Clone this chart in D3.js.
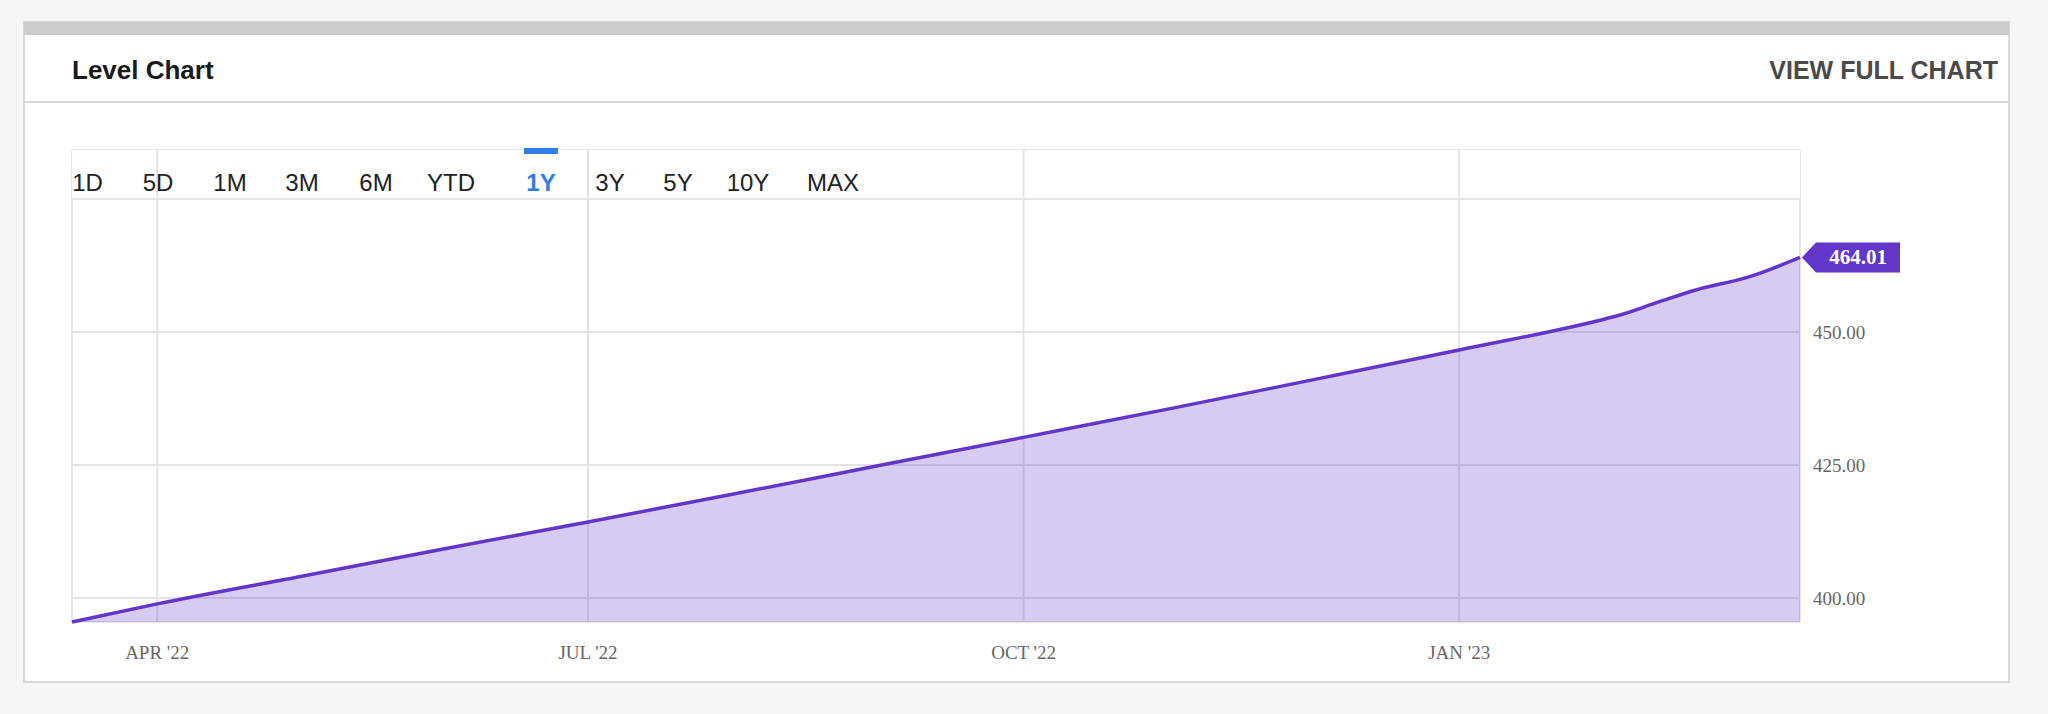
<!DOCTYPE html><html><head><meta charset="utf-8">
<script src="https://cdn.jsdelivr.net/npm/d3@7"></script>
<style>body{margin:0;background:#f6f6f6;}svg{display:block}</style></head><body>
<svg id="c" width="2048" height="714"></svg>
<script>
const dates=["2022-03-14","2022-04-01","2022-05-01","2022-06-01","2022-07-01","2022-08-01","2022-09-01","2022-10-01","2022-11-01","2022-12-01","2023-01-01","2023-02-01","2023-02-04","2023-02-12","2023-02-20","2023-03-03","2023-03-14"];
const values=[395.5,398.9,404.0,409.3,414.3,419.6,425.0,430.2,435.6,441.0,446.6,452.5,453.2,455.6,457.9,460.3,464.01];
const yTicks=[400,425,450,475];
const xTickDates=["2022-04-01","2022-07-01","2022-10-01","2023-01-01"];
const xTickLabels=["APR '22","JUL '22","OCT '22","JAN '23"];
const ranges=["1D","5D","1M","3M","6M","YTD","1Y","3Y","5Y","10Y","MAX"];
const activeRange="1Y";
const lastLabel="464.01";

const svg=d3.select("#c");
const P=d3.timeParse("%Y-%m-%d");
const L=72,R=1800,T=150,B=622;
// card
svg.append("rect").attr("x",24).attr("y",22).attr("width",1985).attr("height",660).attr("fill","#fff").attr("stroke","#d8d8d8").attr("stroke-width",2);
svg.append("rect").attr("x",24).attr("y",22).attr("width",1985).attr("height",13).attr("fill","#cccccc");
svg.append("line").attr("x1",24).attr("x2",2009).attr("y1",102).attr("y2",102).attr("stroke","#d8d8d8").attr("stroke-width",2);
svg.append("text").attr("x",72).attr("y",79).text("Level Chart").attr("font-family","Liberation Sans, Arial").attr("font-weight","bold").attr("font-size",26).attr("fill","#1a1a1a");
svg.append("text").attr("x",1998).attr("y",79).attr("text-anchor","end").text("VIEW FULL CHART").attr("font-family","Liberation Sans, Arial").attr("font-weight","bold").attr("font-size",25).attr("fill","#4a4a4a");

const x=d3.scaleTime().domain([P("2022-03-14"),P("2023-03-14")]).range([L,R]);
const y=d3.scaleLinear().domain([395.5,484.2]).range([B,T]);
const g=svg.append("g");
g.append("rect").attr("x",L).attr("y",T).attr("width",R-L).attr("height",B-T).attr("fill","#fff").attr("stroke","#e6e6e6").attr("stroke-width",2);
g.selectAll(".gy").data(yTicks).join("line").attr("x1",L).attr("x2",R).attr("y1",d=>y(d)).attr("y2",d=>y(d)).attr("stroke","#e3e3e3").attr("stroke-width",2);
g.selectAll(".gx").data(xTickDates).join("line").attr("x1",d=>x(P(d))).attr("x2",d=>x(P(d))).attr("y1",T).attr("y2",B).attr("stroke","#e3e3e3").attr("stroke-width",2);
const data=dates.map((d,i)=>({d:P(d),v:values[i]}));
const area=d3.area().x(d=>x(d.d)).y0(B).y1(d=>y(d.v)).curve(d3.curveMonotoneX);
const line=d3.line().x(d=>x(d.d)).y(d=>y(d.v)).curve(d3.curveMonotoneX);
g.append("path").datum(data).attr("d",area).attr("fill","#6236c8").attr("fill-opacity",0.26);
g.append("path").datum(data).attr("d",line).attr("fill","none").attr("stroke","#6236c8").attr("stroke-width",3.5);
// y labels
g.selectAll(".yl").data(yTicks.filter(v=>v<460)).join("text").attr("x",1813).attr("y",d=>y(d)+7).text(d=>d.toFixed(2)).attr("font-family","Liberation Serif, Times New Roman").attr("font-size",19).attr("fill","#666");
g.selectAll(".xl").data(xTickDates).join("text").attr("x",d=>x(P(d))).attr("y",659).attr("text-anchor","middle").text((d,i)=>xTickLabels[i]).attr("font-family","Liberation Serif, Times New Roman").attr("font-size",19).attr("fill","#666");
// last label
const ly=y(values[values.length-1]);
g.append("path").attr("d",`M${R+2},${ly} L${R+16},${ly-15} L${1900},${ly-15} L${1900},${ly+15} L${R+16},${ly+15} Z`).attr("fill","#6236c8");
g.append("text").attr("x",1858).attr("y",ly+7).attr("text-anchor","middle").text(lastLabel).attr("font-family","Liberation Serif, Times New Roman").attr("font-weight","bold").attr("font-size",21).attr("fill","#fff");
// range buttons
g.append("rect").attr("x",L).attr("y",T).attr("width",R-L).attr("height",49).attr("fill","#fff");
g.append("line").attr("x1",L).attr("x2",R).attr("y1",199).attr("y2",199).attr("stroke","#e3e3e3").attr("stroke-width",2);
g.selectAll(".gx2").data(xTickDates).join("line").attr("x1",d=>x(P(d))).attr("x2",d=>x(P(d))).attr("y1",T).attr("y2",199).attr("stroke","#e3e3e3").attr("stroke-width",2);
const bx=[87.5,158,230,302,376,451,541,610,678,748,833];
g.selectAll(".rb").data(ranges).join("text").attr("x",(d,i)=>bx[i]).attr("y",191).attr("text-anchor","middle").text(d=>d).attr("font-family","Liberation Sans, Arial").attr("font-size",24).attr("fill",d=>d===activeRange?"#2f7ee6":"#222").attr("font-weight",d=>d===activeRange?"bold":"normal");
const ai=ranges.indexOf(activeRange);
g.append("rect").attr("x",bx[ai]-17).attr("y",148).attr("width",34).attr("height",6).attr("fill","#2f7ee6");
</script></body></html>
